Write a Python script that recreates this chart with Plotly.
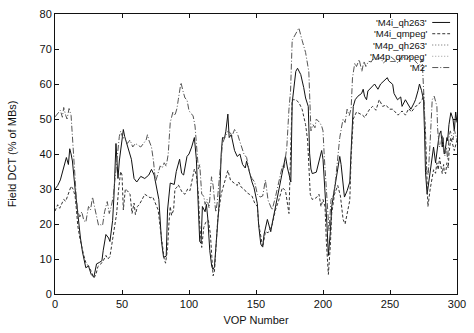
import plotly.graph_objects as go

# ---- data ----
series_names = ["'M4i_qh263'", "'M4i_qmpeg'", "'M4p_qh263'", "'M4p_qmpeg'", "'M2'"]

m4i_qh263_x = [0, 2, 4, 6, 8.5, 10, 11, 12, 13, 15, 17, 19, 20.5, 22, 23, 25, 27, 29, 31, 33, 35, 36, 38, 40, 41, 43,
               44, 45.5, 47, 48, 50, 51, 52, 54, 56, 57, 59, 61, 64, 67, 70, 72, 74, 75, 77.5, 79.5, 81, 83, 84, 86,
               88, 89, 90.5, 92, 93, 94.5, 96, 98.5, 100, 102, 104, 105.5, 107, 108, 109, 110, 112, 113, 114, 115.5,
               117, 118, 119, 120, 121.5, 123, 124, 125, 126.5, 127.5, 129, 130, 131.5, 134, 136, 138, 140, 142, 143,
               145.5, 147, 148.5, 151, 152, 153.6, 155, 156, 158.5, 161, 162, 164.6, 167, 169.7, 172, 173.5, 174.6,
               176, 177, 178.5, 179.7, 181, 183.4, 185.6, 187, 189, 189.5, 190, 191, 192, 195, 196.5, 197.5, 199, 200,
               201.5, 203, 204, 205.5, 206.5, 208, 209, 211.3, 212.5, 213.5, 215, 216, 218, 220, 221, 222.6, 224, 226,
               228.8, 230, 231, 232.5, 233.5, 236, 238.5, 241, 243, 245.5, 248, 249, 252, 253, 255.6, 258, 259, 261.5,
               263, 265.6, 268, 269, 271, 272, 273.5, 275, 275.8, 276.5, 277.7, 279, 280, 281.5, 282.5, 284, 285,
               285.5, 286.7, 288, 289, 289.5, 290.5, 291.5, 292.5, 293, 294, 295.4, 297, 298, 299, 300]
m4i_qh263_y = [30, 31, 32.6, 35.8, 39, 37, 41.5, 40, 38, 30, 22, 16, 12, 9.7, 7.5, 8, 5.6, 4.8, 8.6, 9, 9.5, 12.5, 17, 16,
               15, 21, 28, 43, 33, 38, 44, 47, 45, 42.5, 40, 38.5, 33, 32, 33.6, 33, 34, 35.6, 34, 32, 27, 15, 10.5,
               10.8, 24, 31.7, 31.5, 31.3, 35, 37.5, 38.5, 34.5, 34, 39.3, 40, 42, 44.7, 38.5, 24, 15, 14.5, 25, 23.5,
               25.6, 21.7, 12.4, 7.8, 7, 7.8, 12.4, 21.7, 28.5, 40, 44.7, 44.5, 46.5, 51.4, 44.7, 45.5, 41, 39.3, 40,
               37, 36, 38, 34, 32, 30.4, 25.8, 19.6, 14.2, 13.4, 17, 21.3, 17.8, 20, 25, 29.4, 34, 39.3, 36, 34, 32,
               54.6, 60, 63.6, 64.5, 62.7, 59, 56, 53.6, 46.6, 40.2, 35.7, 34.4, 34.8, 37, 39.3, 41, 38.5, 30, 19.6,
               11, 17.8, 25, 28.5, 31.2, 37.5, 39.3, 37, 32, 27.7, 29.5, 32, 41, 53.6, 55.5, 56.5, 57.3, 58.5, 56.5,
               55.5, 58, 59, 60, 58.5, 60, 60.9, 61.8, 60.9, 59.9, 57.3, 55.5, 56.3, 53.6, 55.5, 54.6, 52.8, 54.6,
               55.5, 58.2, 60, 58.2, 55.5, 46, 34.8, 28.5, 32, 35.7, 40, 42, 37.5, 40.5, 43, 45.5, 46.6, 42, 44.7,
               40, 42, 44.7, 43.8, 48.4, 51.8, 50, 46.6, 52, 49]

m4i_qmpeg_x = [0, 2, 3.5, 5, 6.5, 8, 9.5, 11, 12, 13.5, 15, 16, 17, 18.5, 20, 21.5, 23, 25, 27, 29, 30.5, 32, 34, 36, 38,
               39.5, 41, 43, 44.5, 46, 47.5, 49, 50, 51, 52.5, 54, 56, 57.5, 59, 60, 61.5, 63, 65, 67, 69, 71, 73, 75,
               77, 78.5, 80, 81.5, 82.5, 84, 85, 86, 87, 88.5, 89.5, 91, 92, 93.5, 95, 97, 99, 100.7, 102.5, 104,
               105.5, 107, 108, 109.5, 111, 112.5, 114.5, 116, 117, 118, 119, 120, 121.5, 124, 126.5, 129, 131, 134,
               136, 137, 139, 141, 143, 145, 147, 149, 151, 152, 153.6, 155, 157, 159, 162, 164.5, 167, 169.7, 172,
               174.6, 175.8, 177, 179.7, 182, 184.4, 187, 188.5, 189.5, 190.5, 192, 195, 197, 198.5, 200, 201.5, 202.5,
               204, 205.5, 206.5, 208.6, 210, 211, 213, 215, 216.5, 218, 220, 221, 222.6, 225, 227.5, 230, 231, 233,
               234.8, 237, 239.5, 242, 244.5, 247, 249.6, 252, 254, 256, 259, 261.5, 264, 266, 269, 271, 274, 275,
               276.5, 277.5, 278.3, 280, 281.5, 282.5, 284, 285, 286, 287, 288, 289, 290, 290.5, 291.5, 292.5, 293.5,
               294, 295.4, 296.5, 298, 300]
m4i_qmpeg_y = [23.7, 25.5, 24.5, 26, 27, 26.5, 28, 29.5, 30.8, 30, 28, 24, 19.5, 16, 13, 11, 9, 8, 6.5, 4.6, 5.5, 7.8,
               8.5, 9.5, 11, 10, 10.7, 16, 19, 23, 30, 35, 34, 24, 30, 29.5, 28.5, 23, 26, 22.7, 25, 25.6, 27, 28.5,
               28, 27.5, 27.7, 26, 24, 19, 14.2, 10, 8.8, 13, 20, 25, 22.5, 24, 30, 30.5, 31.2, 30, 29, 28.5, 30,
               29.5, 33, 35.7, 34, 28.5, 19.6, 13.3, 19, 20.5, 21, 17, 10.8, 5.2, 6.5, 13.3, 21.7, 28.5, 32, 35.3,
               32.5, 31.5, 31, 32, 30.5, 30, 29, 28.5, 28, 26, 25, 20, 16, 13.4, 17.8, 17.5, 19.6, 24, 26.8, 30.4,
               29.5, 23, 40, 55.5, 55.5, 54.7, 52.8, 48.4, 44, 34, 28.5, 27, 27.5, 28.5, 25, 27, 25, 15, 5.6, 14, 23,
               28.5, 30.4, 31, 28, 21.3, 20, 22.7, 26.8, 39.3, 50, 52, 51.5, 51, 50.4, 51.5, 52.8, 53.6, 52.5, 55.5,
               53.6, 54, 52.8, 52.8, 52, 51.1, 52.3, 51.1, 53, 52, 53.6, 54, 55.5, 57.3, 46, 31.2, 25, 30, 33.8, 35.5,
               34.5, 37.5, 35.5, 39, 36.5, 34.4, 37, 35, 34.4, 37.5, 36, 40, 44.7, 43, 41, 44]

m4p_qh263_x = []
m4p_qh263_y = []
m4p_qmpeg_x = []
m4p_qmpeg_y = []

m2_x = [0, 2, 4, 5.5, 6.5, 8, 9, 10.5, 12, 13, 14.5, 16, 17, 18.5, 20, 21.5, 23, 25, 26.5, 28, 30, 31, 32.5, 34, 35.5, 37,
        39, 40.5, 42, 43.5, 45, 46.5, 48, 49, 50.5, 52, 54, 56, 58, 60, 62, 64, 66, 68, 69, 70, 72, 73.5, 75, 77, 78.5,
        80, 81.5, 83, 84.5, 86, 88, 89.5, 91, 92, 94, 95.5, 97, 98.5, 100, 101.5, 103, 104.5, 105.6, 107, 108, 109.5,
        111, 112, 113.5, 115, 116.8, 118, 119, 120, 121, 122.5, 124, 125, 127, 129, 131, 132, 134, 136, 138, 141, 143,
        145, 147, 149, 151, 153, 155, 157, 159, 162, 164.5, 167, 169.7, 171, 173, 174.6, 175.8, 177, 179.7, 182, 184.4,
        187, 189.4, 190.5, 191, 192.5, 194, 195, 197.5, 199, 200, 201, 202, 203.5, 204.5, 206, 208, 209.5, 211, 212.5,
        214, 215, 216.5, 218, 219.6, 221, 222, 223.7, 225, 227, 229, 230.5, 232, 234, 236, 238, 240, 243, 245, 248,
        250, 253, 256, 259, 262, 265, 268, 270, 272, 274, 275.5, 277, 278.5, 280, 281.5, 283, 284, 285, 285.5, 286.7,
        288, 289, 290, 291, 292, 293, 294, 295, 297, 298, 300]
m2_y = [50.6, 51.5, 52.5, 50.5, 53.3, 51, 50, 53, 51, 45, 35, 27, 23.7, 22, 23.5, 21, 20.5, 25, 24, 27.7, 24, 22, 19.6,
        19.8, 19.6, 23.5, 26.4, 23, 25, 28, 34, 40, 45, 46.5, 44.7, 44.5, 43, 44, 42, 43, 42.5, 42, 43, 44, 45.5, 44,
        42, 38, 32, 35, 36.6, 36, 37.5, 36.5, 40, 49, 52, 51, 53, 55.5, 60.4, 58, 56, 55.5, 52.4, 51.5, 51, 48, 43,
        35.7, 37, 28.5, 28, 25.6, 27, 24.6, 33.5, 31, 27, 23.4, 26, 32, 38, 43, 45, 46.5, 46, 45, 47, 46, 43.5, 40, 39,
        35, 33, 32, 28.5, 27.7, 28, 32.6, 26.8, 24, 27.7, 32, 36.6, 36, 42, 52.8, 58, 72.5, 74.3, 76, 72.5, 69, 63.6,
        53.6, 46.6, 48.4, 47.5, 50, 49, 48, 46.6, 39, 32, 25, 18, 27, 28.5, 33, 40, 44.7, 48, 50, 49, 52.8, 51, 53,
        61.7, 66, 65, 67, 63.6, 66.5, 65, 66.5, 66.3, 67.6, 67, 67.6, 66, 67, 68, 67, 66, 68, 67, 68, 67, 66, 65.4,
        67, 55, 36, 34, 43.8, 55.5, 56.5, 55, 53.6, 47.5, 42, 43, 45.5, 41, 39.5, 42, 38.5, 44.7, 46.6, 44, 47, 44]

x_ticks = [0, 50, 100, 150, 200, 250, 300]
y_ticks = [0, 10, 20, 30, 40, 50, 60, 70, 80]

# ---- styles ----
styles = [
    dict(color="#111111", width=1.0, dash="solid"),
    dict(color="#333333", width=1.0, dash="3px,2px"),
    dict(color="#666666", width=1.0, dash="1px,2px"),
    dict(color="#9a9a9a", width=1.0, dash="1px,2px"),
    dict(color="#555555", width=1.0, dash="6px,2px,1px,2px"),
]
xs = [m4i_qh263_x, m4i_qmpeg_x, m4p_qh263_x, m4p_qmpeg_x, m2_x]
ys = [m4i_qh263_y, m4i_qmpeg_y, m4p_qh263_y, m4p_qmpeg_y, m2_y]

fig = go.Figure()
for name, x, y, st in zip(series_names, xs, ys, styles):
    fig.add_trace(go.Scatter(x=x, y=y, mode="lines", name=name, line=st, showlegend=False))

FONT = "Liberation Sans, Arial, Helvetica, sans-serif"

# gnuplot-style legend: text right-aligned, sample on the right
L, R, T, B = 55, 461, 8, 306
W, H = R - L, B - T
row_py = [17, 29, 41, 53, 65]
for name, st, py in zip(series_names, styles, row_py):
    yp = (B - py) / H
    fig.add_annotation(x=(432 - L) / W, y=yp, xref="paper", yref="paper", text=name, showarrow=False,
                       xanchor="right", yanchor="middle", borderpad=0,
                       font=dict(family=FONT, size=9.5, color="#111"))
    fig.add_shape(type="line", xref="paper", yref="paper", x0=(436 - L) / W, x1=(454 - L) / W, y0=yp, y1=yp,
                  line=st)

axis_common = dict(showline=True, linecolor="#111", linewidth=1, mirror="ticks", ticks="inside", ticklen=4,
                   tickcolor="#111", showgrid=False, zeroline=False,
                   tickfont=dict(family=FONT, size=11, color="#111"))
fig.update_layout(
    width=474, height=333,
    margin=dict(l=L, r=474 - R, t=T, b=333 - B),
    paper_bgcolor="white", plot_bgcolor="white",
    xaxis=dict(range=[0, 300], tickvals=x_ticks,
               title=dict(text="VOP Number", font=dict(family=FONT, size=11, color="#111"), standoff=7),
               **axis_common),
    yaxis=dict(range=[0, 80], tickvals=y_ticks,
               title=dict(text="Field DCT (% of MBs)", font=dict(family=FONT, size=11, color="#111"), standoff=20),
               **axis_common),
)
fig.write_html("out.html")
